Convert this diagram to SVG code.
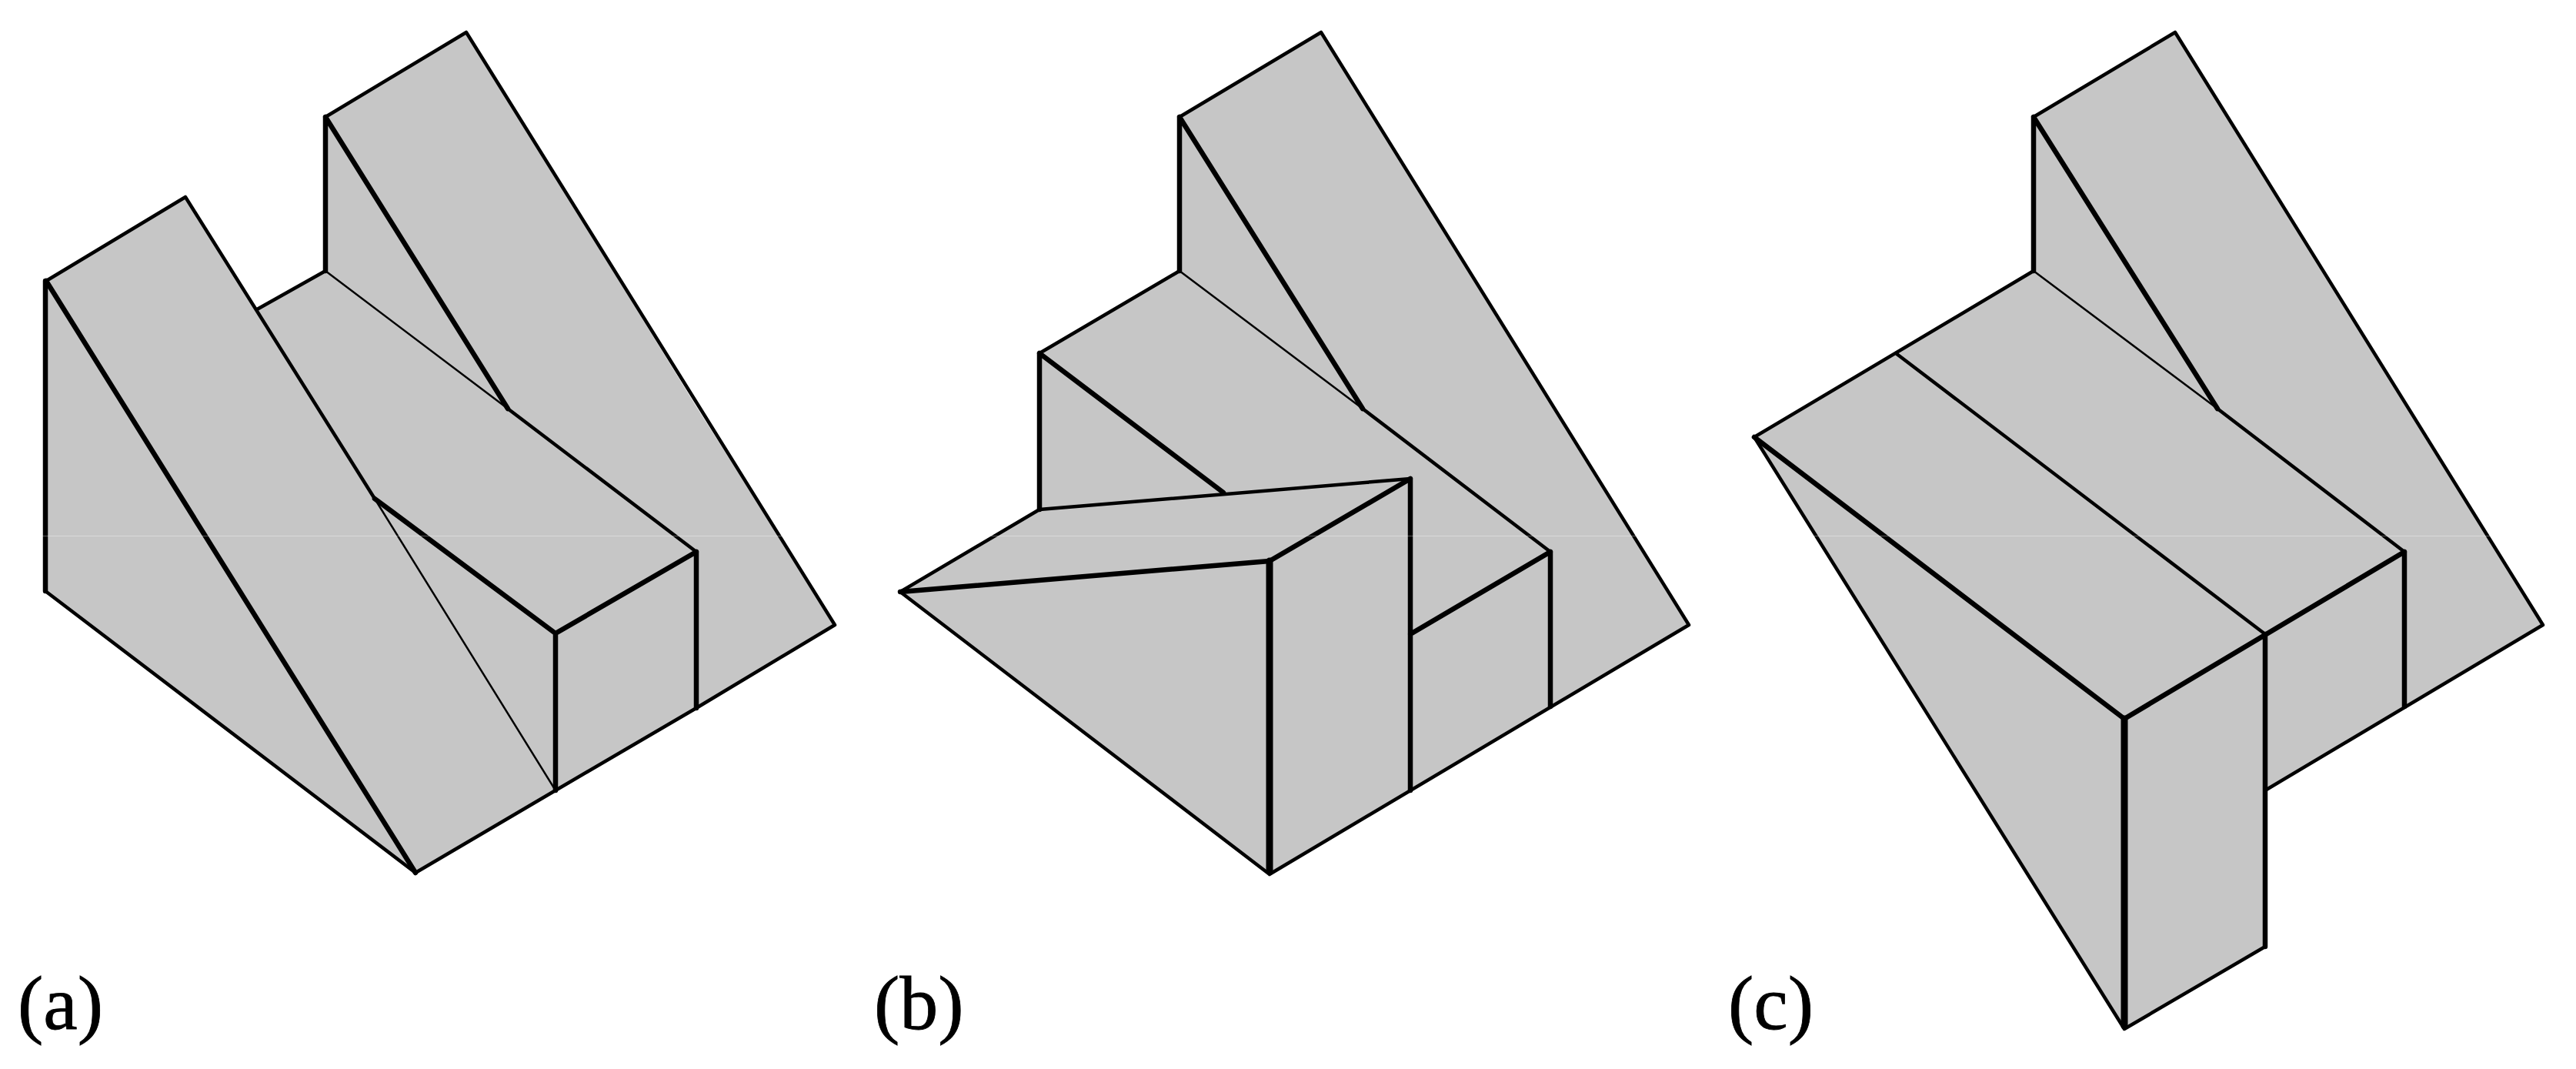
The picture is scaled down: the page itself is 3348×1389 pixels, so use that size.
<svg xmlns="http://www.w3.org/2000/svg" width="3348" height="1389" viewBox="0 0 3348 1389">
<style>
.f{fill:#c6c6c6;stroke:none}
.l{fill:none;stroke:#000;stroke-linecap:round;stroke-linejoin:round}
.t1{stroke-width:2.5}.t2{stroke-width:4.5}.t3{stroke-width:6.5}.t4{stroke-width:9}
text{font-family:"Liberation Serif","Times New Roman",serif;font-size:100px;fill:#000;stroke:#000;stroke-width:.8px}
</style>
<rect width="3348" height="1389" fill="#fff"/>
<g id="panel-a">
<polygon class="f" points="606,42 423,152 423,352 334,402 241,256 60,365 59,768 540,1134 1085,812 906,530"/>
<g class="l t2"><path d="M606,42 423,152M606,42 1085,812M241,256 60,365M241,256 487,648M334,402 423,352M59,768 540,1134M540,1134 722,1027M905,920 1085,812M722,1027 905,920M660,531 905,717"/></g>
<g class="l t1"><path d="M423,352 660,531M487,648 722,1027"/></g>
<g class="l t3"><path d="M423,152V352M60,365 540,1134M423,152 660,531M487,648 722,823M722,823 905,717M905,717V920M722,823V1027M59,365V768"/></g>
<text x="23" y="1337">(a)</text>
</g>
<g id="panel-b">
<polygon class="f" points="1717,42 1533,152 1533,352 1351,459 1351,662 1170,769 1650,1136 2195,812"/>
<g class="l t2"><path d="M1717,42 1533,152M1717,42 2195,812M1533,352 1351,459M1170,769 1650,1136M1650,1136 2195,812M1771,531 2015,717M1351,662 1170,769M1351,662 1833,622"/></g>
<g class="l t1"><path d="M1533,352 1771,531"/></g>
<g class="l t3"><path d="M1533,152V352M1533,152 1771,531M1351,459V662M1351,459 1590,640M1170,769 1650,729M1650,729 1833,622M1833,622V1027M1833,824 2015,717M2015,717V918"/></g>
<path class="l t4" d="M1650,729V1132"/>
<text x="1136" y="1337">(b)</text>
</g>
<g id="panel-c">
<polygon class="f" points="2827,42 2643,152 2643,352 2280,568 2761,1337 2944,1230 2944,1027 3305,812"/>
<g class="l t2"><path d="M2827,42 2643,152M2827,42 3305,812M2643,352 2280,568M2280,568 2761,1337M2761,1337 2944,1230M2944,1027 3305,812M2464,459 2944,824M2882,531 3125,717"/></g>
<g class="l t1"><path d="M2643,352 2882,531"/></g>
<g class="l t3"><path d="M2643,152V352M2643,152 2882,531M2280,568 2761,934M2761,934 3125,717M2944,824V1230M3125,717V918"/></g>
<path class="l t4" d="M2761,934V1333"/>
<text x="2246" y="1337">(c)</text>
</g>
<rect x="0" y="696" width="3348" height="1" fill="#fff" opacity=".35"/>
</svg>
